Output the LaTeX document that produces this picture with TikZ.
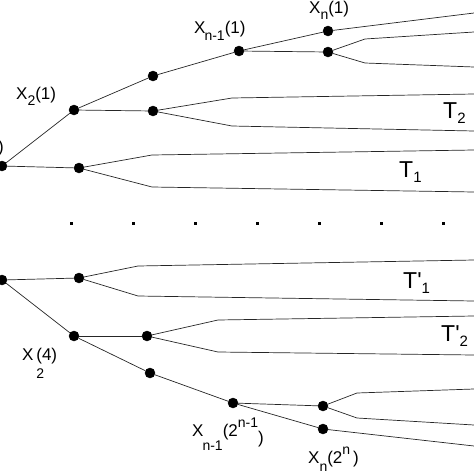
\documentclass[tikz,border=0pt]{standalone}
\usepackage{fontspec}
\setmainfont{Liberation Sans}
\usepackage{tikz}

\newcommand{\smallfont}{\fontsize{14}{14}\selectfont}
\newcommand{\tfont}{\fontsize{23}{25}\selectfont}
\newcommand{\xlab}[2]{X\raisebox{-6pt}{\smallfont #1}(#2)}
\newcommand{\tlab}[2]{T#1\raisebox{-5pt}{\fontsize{15}{15}\selectfont #2}}

\begin{document}
\begin{tikzpicture}[x=1pt, y=-1pt,
  vertex/.style={draw, shape=circle, fill=black, inner sep=0pt, minimum size=10pt},
  edge/.style={-, line width=0.7pt, black!85},
  dot/.style={fill=black, inner sep=0pt, minimum size=3pt},
  lab/.style={anchor=base west, inner sep=0pt, font=\fontsize{17}{19}\selectfont}]

\useasboundingbox (0,0) rectangle (474,474);
\clip (0,0) rectangle (474,474);

% upper tree
\node[vertex] (r1) at (2,166) {};
\node[vertex] (a1) at (74,110) {};
\node[vertex] (a2) at (79,168) {};
\node[vertex] (b1) at (153,76) {};
\node[vertex] (b2) at (153,111) {};
\node[vertex] (c1) at (239,51) {};
\node[vertex] (d1) at (328,31) {};
\node[vertex] (d2) at (328,52) {};

\coordinate (d1e) at (474,13);
\coordinate (d2k) at (365,39);
\coordinate (d2ke) at (474,32);
\coordinate (d2l) at (365,63);
\coordinate (d2le) at (474,67);
\coordinate (b2k) at (232,98);
\coordinate (b2ke) at (474,94);
\coordinate (b2l) at (232,126);
\coordinate (b2le) at (474,131);
\coordinate (a2k) at (152,155);
\coordinate (a2ke) at (474,150);
\coordinate (a2l) at (152,187);
\coordinate (a2le) at (474,192);

\draw[edge] (r1) to (a1);
\draw[edge] (r1) to (a2);
\draw[edge] (a1) to (b1);
\draw[edge] (a1) to (b2);
\draw[edge] (b1) to (c1);
\draw[edge] (c1) to (d1);
\draw[edge] (c1) to (d2);
\draw[edge] (d1) to (d1e);
\draw[edge] (d2) -- (d2k) -- (d2ke);
\draw[edge] (d2) -- (d2l) -- (d2le);
\draw[edge] (b2) -- (b2k) -- (b2ke);
\draw[edge] (b2) -- (b2l) -- (b2le);
\draw[edge] (a2) -- (a2k) -- (a2ke);
\draw[edge] (a2) -- (a2l) -- (a2le);

\node[lab, anchor=base east] (r1lab) at (4,152) {(1)};
\node[lab] (a1lab) at (16,99) {\xlab{2}{1}};
\node[lab] (c1lab) at (194,33) {X\kern-1pt\raisebox{-7pt}{\smallfont n-1}(1)};
\node[lab] (d1lab) at (309,13) {\xlab{n}{1}};
\node[lab, font=\tfont] (t2) at (443,118) {\tlab{}{2}};
\node[lab, font=\tfont] (t1) at (399,177) {\tlab{}{1}};

% dots between the trees
\foreach \i in {0,...,6}
  \node[dot] (dot\i) at (71+62*\i,223) {};

% lower tree
\node[vertex] (r2) at (2,280) {};
\node[vertex] (e1) at (79,278) {};
\node[vertex] (e2) at (74,336) {};
\node[vertex] (f1) at (147,336) {};
\node[vertex] (f2) at (150,373) {};
\node[vertex] (g1) at (233,403) {};
\node[vertex] (h1) at (323,406) {};
\node[vertex] (h2) at (323,429) {};

\coordinate (e1k) at (138,266);
\coordinate (e1ke) at (474,260);
\coordinate (e1l) at (138,296);
\coordinate (e1le) at (474,301);
\coordinate (f1k) at (218,320);
\coordinate (f1ke) at (474,316);
\coordinate (f1l) at (218,352);
\coordinate (f1le) at (474,355);
\coordinate (h1k) at (357,393);
\coordinate (h1ke) at (474,389);
\coordinate (h1l) at (357,418);
\coordinate (h1le) at (474,425);
\coordinate (h2e) at (474,446);

\draw[edge] (r2) to (e1);
\draw[edge] (r2) to (e2);
\draw[edge] (e2) to (f1);
\draw[edge] (e2) to (f2);
\draw[edge] (f2) to (g1);
\draw[edge] (g1) to (h1);
\draw[edge] (g1) to (h2);
\draw[edge] (e1) -- (e1k) -- (e1ke);
\draw[edge] (e1) -- (e1l) -- (e1le);
\draw[edge] (f1) -- (f1k) -- (f1ke);
\draw[edge] (f1) -- (f1l) -- (f1le);
\draw[edge] (h1) -- (h1k) -- (h1ke);
\draw[edge] (h1) -- (h1l) -- (h1le);
\draw[edge] (h2) to (h2e);

\node[lab, font=\tfont] (t1p) at (403,288) {\tlab{\textquotesingle}{1}};
\node[lab, font=\tfont] (t2p) at (441,341) {\tlab{\textquotesingle}{2}};
\node[lab] (e2lab) at (22,360) {X\,\rlap{\raisebox{-18pt}{\smallfont 2}}(4)};
\node[lab] (g1lab) at (192,436) {X\kern-1pt\raisebox{-14pt}{\smallfont n-1}(2\raisebox{9pt}{\smallfont n-1}\raisebox{-7pt}{)}};
\node[lab] (h2lab) at (308,463) {X\raisebox{-8pt}{\smallfont n}(2\raisebox{9pt}{\smallfont n}\,)};
\end{tikzpicture}
\end{document}
